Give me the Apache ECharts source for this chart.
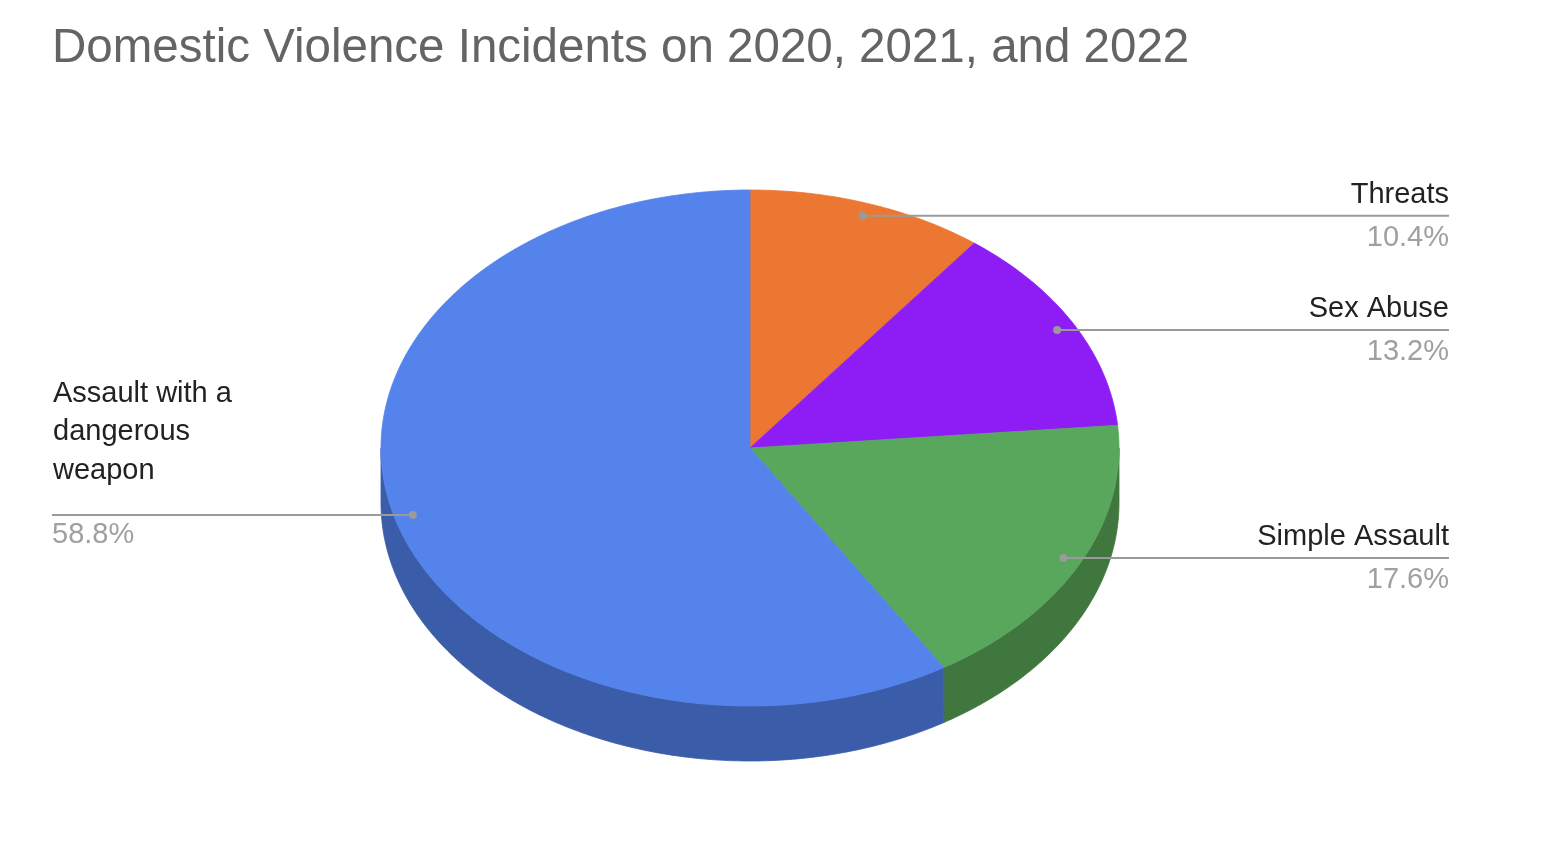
<!DOCTYPE html>
<html>
<head>
<meta charset="utf-8">
<script src="https://cdn.jsdelivr.net/npm/echarts@6/dist/echarts.min.js"></script>
<style>
html,body{margin:0;padding:0;background:#fff;}
#chart{width:1552px;height:842px;}
</style>
</head>
<body>
<div id="chart"></div>
<script>
const categories = ['Threats', 'Sex Abuse', 'Simple Assault', 'Assault with a\ndangerous\nweapon'];
const values = [10.4, 13.2, 17.6, 58.8];
const percentLabels = ['10.4%', '13.2%', '17.6%', '58.8%'];
const topColors = ['#EC7732', '#8E1DF5', '#59A65D', '#5483EB'];
const sideColors = ['#A8521F', '#5F12A6', '#3F773F', '#3B5CA9'];
const labelSides = ['right', 'right', 'right', 'left'];

const total = values.reduce((a, b) => a + b, 0);
const sliceData = [];
let acc = 0;
values.forEach((v, i) => { sliceData.push([acc, acc + v, i]); acc += v; });

const DEPTH = 55 / 258;     // side height relative to vertical radius
const LABEL_R = 0.95;       // radius fraction of the leader-line dot
const FONT = 'Arial';

const chart = echarts.init(document.getElementById('chart'));

function renderItem(params, api) {
  const idx = api.value(2);
  const s = api.value(0) / total * Math.PI * 2;
  const e = api.value(1) / total * Math.PI * 2;
  const pt = (t, r, dz) => api.coord([r * Math.sin(t), -r * Math.cos(t) + (dz || 0)]);
  const arc = (a, b, dz) => {
    const n = Math.max(2, Math.ceil((b - a) * 80));
    const out = [];
    for (let k = 0; k <= n; k++) out.push(pt(a + (b - a) * k / n, 1, dz));
    return out;
  };
  const children = [];
  const a = Math.max(s, Math.PI / 2), b = Math.min(e, Math.PI * 1.5);
  if (b > a) {
    const pts = arc(a, b, 0).concat(arc(a, b, DEPTH).reverse());
    children.push({
      type: 'polygon', shape: { points: pts },
      style: { fill: sideColors[idx], stroke: sideColors[idx], lineWidth: 0.8 }
    });
  }
  const topPts = [pt(0, 0, 0)].concat(arc(s, e, 0));
  children.push({
    type: 'polygon', shape: { points: topPts }, z2: 5,
    style: { fill: topColors[idx], stroke: topColors[idx], lineWidth: 0.8 }
  });
  const mid = (s + e) / 2;
  const dot = pt(mid, LABEL_R, 0);
  const W = api.getWidth();
  const right = labelSides[idx] === 'right';
  const edgeX = right ? W - 103 : 52;
  children.push({
    type: 'line', z2: 20,
    shape: { x1: dot[0], y1: dot[1], x2: edgeX, y2: dot[1] },
    style: { stroke: '#9a9a9a', lineWidth: 2 }
  });
  children.push({
    type: 'circle', z2: 21,
    shape: { cx: dot[0], cy: dot[1], r: 4 },
    style: { fill: '#9a9a9a' }
  });
  const lines = categories[idx].split('\n').length;
  const nameOffset = lines > 1 ? -82.5 : -21;
  children.push({
    type: 'text', z2: 22,
    style: {
      text: categories[idx], x: right ? edgeX : edgeX + 1, y: dot[1] + nameOffset,
      fill: '#222222', fontSize: 29, fontFamily: FONT, lineHeight: 38.5,
      align: right ? 'right' : 'left', verticalAlign: 'middle'
    }
  });
  children.push({
    type: 'text', z2: 22,
    style: {
      text: percentLabels[idx], x: edgeX, y: dot[1] + (lines > 1 ? 20 : 22),
      fill: '#a0a0a0', fontSize: 29, fontFamily: FONT,
      align: right ? 'right' : 'left', verticalAlign: 'middle'
    }
  });
  return { type: 'group', children };
}

chart.setOption({
  animation: false,
  backgroundColor: '#ffffff',
  title: {
    text: 'Domestic Violence Incidents on 2020, 2021, and 2022',
    left: 47, top: 20,
    textStyle: { color: '#646464', fontSize: 47.5, fontWeight: 'normal', fontFamily: FONT }
  },
  grid: { left: 381, width: 738, top: 190, height: 258 * 2 + 55 },
  xAxis: { type: 'value', min: -1, max: 1, show: false },
  yAxis: { type: 'value', min: -1, max: 1 + DEPTH, inverse: true, show: false },
  series: [{
    type: 'custom',
    renderItem: renderItem,
    data: sliceData,
    clip: false
  }]
});
</script>
</body>
</html>
